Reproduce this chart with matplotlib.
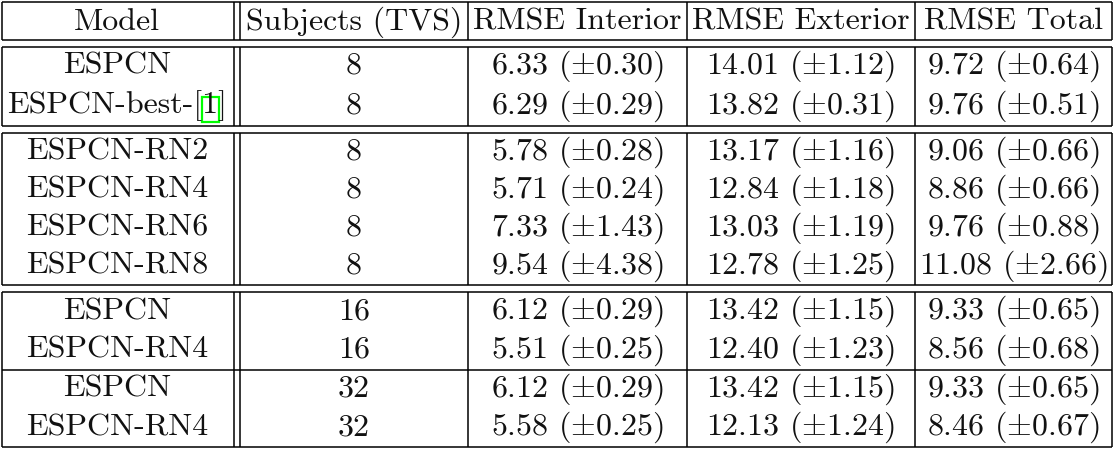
import matplotlib
matplotlib.use('Agg')
import matplotlib.pyplot as plt
from matplotlib.patches import Rectangle

plt.rcParams['font.family'] = ['cmr10']
plt.rcParams['mathtext.fontset'] = 'cm'
plt.rcParams['axes.formatter.use_mathtext'] = True

# ── 표 데이터 ──
header = ['Model', 'Subjects (TVS)', 'RMSE Interior', 'RMSE Exterior', 'RMSE Total']
models = ['ESPCN', 'ESPCN-best-[1]',
          'ESPCN-RN2', 'ESPCN-RN4', 'ESPCN-RN6', 'ESPCN-RN8',
          'ESPCN', 'ESPCN-RN4',
          'ESPCN', 'ESPCN-RN4']
subjects = [8, 8, 8, 8, 8, 8, 16, 16, 32, 32]
interior = [6.33, 6.29, 5.78, 5.71, 7.33, 9.54, 6.12, 5.51, 6.12, 5.58]
interior_sd = [0.30, 0.29, 0.28, 0.24, 1.43, 4.38, 0.29, 0.25, 0.29, 0.25]
exterior = [14.01, 13.82, 13.17, 12.84, 13.03, 12.78, 13.42, 12.40, 13.42, 12.13]
exterior_sd = [1.12, 0.31, 1.16, 1.18, 1.19, 1.25, 1.15, 1.23, 1.15, 1.24]
total = [9.72, 9.76, 9.06, 8.86, 9.76, 11.08, 9.33, 8.56, 9.33, 8.46]
total_sd = [0.64, 0.51, 0.66, 0.66, 0.88, 2.66, 0.65, 0.68, 0.65, 0.67]

# ── 레이아웃(픽셀) ──
W, H = 1116, 450
fig = plt.figure(figsize=(W / 100, H / 100), dpi=100)
ax = fig.add_axes([0, 0, 1, 1])
ax.set_xlim(0, W); ax.set_ylim(H, 0); ax.axis('off')

col_x = [2, 233.5, 240, 468, 687, 914.5, 1112]     # 세로선 (모델 뒤 이중선)
centers = [117, 354, 577.5, 800.5, 1013]
FS = 23
LW = 1.1

def box(y0, y1, seps=()):
    for y in [y0, y1, *seps]:
        ax.plot([col_x[0], col_x[-1]], [y, y], color='k', lw=LW, solid_capstyle='butt')
    for x in col_x:
        ax.plot([x, x], [y0, y1], color='k', lw=LW, solid_capstyle='butt')

def cell(x, y, s):
    return ax.text(x, y, s, ha='center', va='baseline', fontsize=FS, color='#111111')

# 헤더
box(2, 40)
for c, t in zip(centers, header):
    cell(c, 30, t)

# 본문 박스 (그룹 사이 이중선)
box(47, 125.5)
box(132.5, 285)
box(292, 447, seps=[369.5])
row_tops = [47, 86.5, 132.5, 170.5, 208.5, 246.5, 292, 330.5, 369.5, 408]

def fmt(v, sd):
    return f'{v:.2f} ($\\pm${sd:.2f})'

link_txt = None
for i in range(len(models)):
    yb = row_tops[i] + 27
    t = cell(centers[0], yb, models[i])
    if '[1]' in models[i]:
        link_txt = t
    cell(centers[1], yb, str(subjects[i]))
    cell(centers[2], yb, fmt(interior[i], interior_sd[i]))
    cell(centers[3], yb, fmt(exterior[i], exterior_sd[i]))
    cell(centers[4], yb, fmt(total[i], total_sd[i]))

# 인용 링크 초록 박스 ("1" 주변)
r = fig.canvas.get_renderer()
full = link_txt.get_window_extent(r)
tmp = ax.text(0, 0, 'ESPCN-best-[', fontsize=FS)
w_pre = tmp.get_window_extent(r).width
tmp.remove()
tmp = ax.text(0, 0, '1', fontsize=FS)
w_one = tmp.get_window_extent(r).width
tmp.remove()
x0 = full.x0 + w_pre
inv = ax.transData.inverted()
(dx0, _), (dx1, _) = inv.transform([(x0, 0), (x0 + w_one, 0)])
ax.add_patch(Rectangle((dx0 - 0.5, 97), dx1 - dx0 + 1, 25, fill=False,
                       edgecolor='#00ff00', lw=1.6))

fig.savefig('out.png', dpi=100)
